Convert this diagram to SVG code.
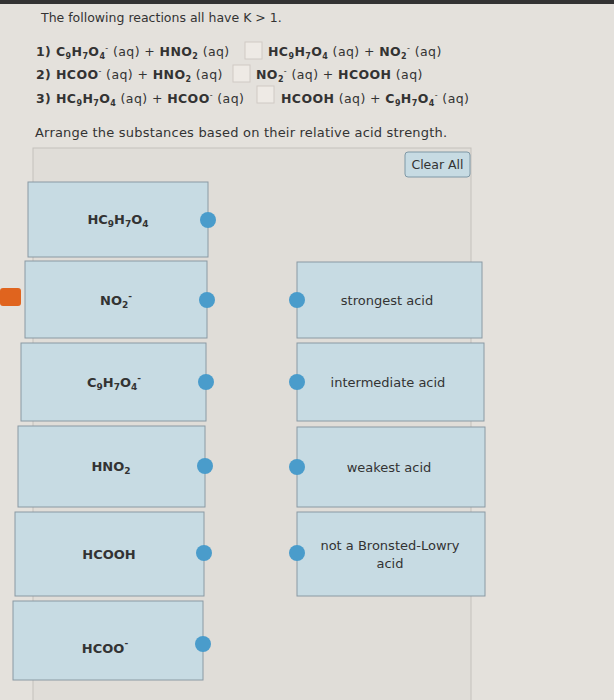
<svg xmlns="http://www.w3.org/2000/svg" width="614" height="700" viewBox="0 0 614 700">
<style>
text{font-family:"DejaVu Sans","Liberation Sans",sans-serif;fill:#333}
.eq{font-size:12.5px;letter-spacing:0.4px}
.b{font-weight:bold}
.box{fill:#c7dbe3;stroke:#8a9aa3;stroke-width:1}
.tab{fill:#4a9ccb}
.lbl{font-size:13px;text-anchor:middle}
.sq{fill:#eeeae5;stroke:#cfcac4}
</style>
<rect width="614" height="700" fill="#e4e1dc"/>
<rect width="614" height="4" fill="#333"/>
<text x="41" y="22" font-size="12.5">The following reactions all have K &gt; 1.</text>
<g class="eq">
<text x="36" y="56"><tspan class="b">1) C<tspan font-size="8" dy="3">9</tspan><tspan dy="-3">H</tspan><tspan font-size="8" dy="3">7</tspan><tspan dy="-3">O</tspan><tspan font-size="8" dy="3">4</tspan></tspan><tspan font-size="8" dy="-8">-</tspan><tspan dy="5"> (aq) + </tspan><tspan class="b">HNO<tspan font-size="8" dy="3">2</tspan></tspan><tspan dy="-3"> (aq)</tspan></text>
<rect class="sq" x="245" y="42" width="17" height="17"/>
<text x="268" y="56"><tspan class="b">HC<tspan font-size="8" dy="3">9</tspan><tspan dy="-3">H</tspan><tspan font-size="8" dy="3">7</tspan><tspan dy="-3">O</tspan><tspan font-size="8" dy="3">4</tspan></tspan><tspan dy="-3"> (aq) + </tspan><tspan class="b">NO<tspan font-size="8" dy="3">2</tspan></tspan><tspan font-size="8" dy="-8">-</tspan><tspan dy="5"> (aq)</tspan></text>
<text x="36" y="79"><tspan class="b">2) HCOO</tspan><tspan font-size="8" dy="-5">-</tspan><tspan dy="5"> (aq) + </tspan><tspan class="b">HNO<tspan font-size="8" dy="3">2</tspan></tspan><tspan dy="-3"> (aq)</tspan></text>
<rect class="sq" x="233" y="65" width="17" height="17"/>
<text x="256" y="79"><tspan class="b">NO<tspan font-size="8" dy="3">2</tspan></tspan><tspan font-size="8" dy="-8">-</tspan><tspan dy="5"> (aq) + </tspan><tspan class="b">HCOOH</tspan> (aq)</text>
<text x="36" y="103"><tspan class="b">3) HC<tspan font-size="8" dy="3">9</tspan><tspan dy="-3">H</tspan><tspan font-size="8" dy="3">7</tspan><tspan dy="-3">O</tspan><tspan font-size="8" dy="3">4</tspan></tspan><tspan dy="-3"> (aq) + </tspan><tspan class="b">HCOO</tspan><tspan font-size="8" dy="-5">-</tspan><tspan dy="5"> (aq)</tspan></text>
<rect class="sq" x="257" y="86" width="17" height="17"/>
<text x="281" y="103"><tspan class="b">HCOOH</tspan> (aq) + <tspan class="b">C<tspan font-size="8" dy="3">9</tspan><tspan dy="-3">H</tspan><tspan font-size="8" dy="3">7</tspan><tspan dy="-3">O</tspan><tspan font-size="8" dy="3">4</tspan></tspan><tspan font-size="8" dy="-8">-</tspan><tspan dy="5"> (aq)</tspan></text>
</g>
<text x="35" y="137" font-size="13" letter-spacing="0.2">Arrange the substances based on their relative acid strength.</text>
<rect x="33" y="148" width="438" height="560" fill="#e0ddd8" stroke="#c4c1bc"/>
<g id="clear"><rect x="405" y="152" width="65" height="25" rx="3" fill="#c7dbe3" stroke="#7f98a6"/><text x="437.5" y="169" font-size="12.5" text-anchor="middle">Clear All</text></g>
<rect x="0" y="288" width="21" height="18" rx="3" fill="#e0641e"/>
<g class="lbl">
<g id="n1"><rect class="box" x="28" y="182" width="180" height="75"/><circle class="tab" cx="208" cy="220" r="8"/><text x="118" y="224" class="b">HC<tspan font-size="9" dy="3">9</tspan><tspan dy="-3">H</tspan><tspan font-size="9" dy="3">7</tspan><tspan dy="-3">O</tspan><tspan font-size="9" dy="3">4</tspan></text></g>
<g id="n2"><rect class="box" x="25" y="261" width="182" height="77"/><circle class="tab" cx="207" cy="300" r="8"/><text x="116" y="305" class="b">NO<tspan font-size="9" dy="3">2</tspan><tspan font-size="9" dy="-9">-</tspan></text></g>
<g id="n3"><rect class="box" x="21" y="343" width="185" height="78"/><circle class="tab" cx="206" cy="382" r="8"/><text x="114" y="387" class="b">C<tspan font-size="9" dy="3">9</tspan><tspan dy="-3">H</tspan><tspan font-size="9" dy="3">7</tspan><tspan dy="-3">O</tspan><tspan font-size="9" dy="3">4</tspan><tspan font-size="9" dy="-9">-</tspan></text></g>
<g id="n4"><rect class="box" x="18" y="426" width="187" height="81"/><circle class="tab" cx="205" cy="466" r="8"/><text x="111" y="471" class="b">HNO<tspan font-size="9" dy="3">2</tspan></text></g>
<g id="n5"><rect class="box" x="15" y="512" width="189" height="84"/><circle class="tab" cx="204" cy="553" r="8"/><text x="109" y="559" class="b">HCOOH</text></g>
<g id="n6"><rect class="box" x="13" y="601" width="190" height="79"/><circle class="tab" cx="203" cy="644" r="8"/><text x="105" y="653" class="b">HCOO<tspan font-size="9" dy="-7">-</tspan></text></g>
<g id="r1"><rect class="box" x="297" y="262" width="185" height="76"/><circle class="tab" cx="297" cy="300" r="8"/><text x="387" y="305">strongest acid</text></g>
<g id="r2"><rect class="box" x="297" y="343" width="187" height="78"/><circle class="tab" cx="297" cy="382" r="8"/><text x="388" y="387">intermediate acid</text></g>
<g id="r3"><rect class="box" x="297" y="427" width="188" height="80"/><circle class="tab" cx="297" cy="467" r="8"/><text x="389" y="472">weakest acid</text></g>
<g id="r4"><rect class="box" x="297" y="512" width="188" height="84"/><circle class="tab" cx="297" cy="553" r="8"/><text x="390" y="550">not a Bronsted-Lowry</text><text x="390" y="568">acid</text></g>
</g>
<g id="connectors"/>
</svg>
